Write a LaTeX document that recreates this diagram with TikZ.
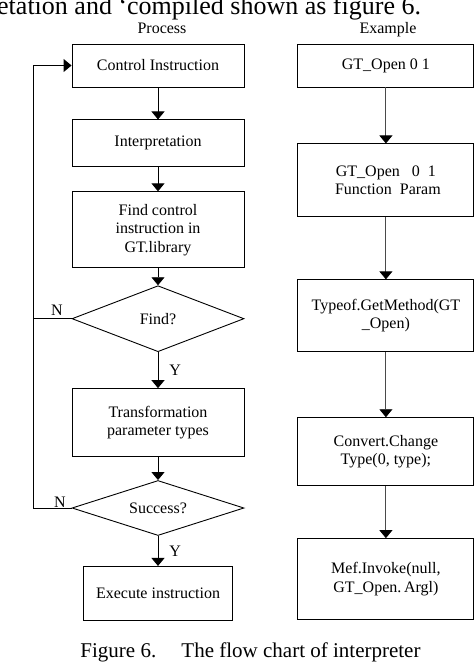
\documentclass[tikz,border=0pt]{standalone}
\usepackage{fontspec}
\setmainfont{Liberation Serif}
\usepackage{tikz}
\usetikzlibrary{arrows.meta,positioning,shapes.geometric}
\definecolor{wire}{HTML}{4A4A4A}
\newcommand{\boxfont}{\fontsize{16}{18.5}\selectfont}

\begin{document}
\begin{tikzpicture}[
  x=1pt, y=-1pt,
  node distance=32pt and 53pt,
  stepbox/.style={draw, line width=0.9pt, align=center, inner sep=0pt, minimum width=172pt, font=\boxfont},
  exbox/.style={stepbox, minimum width=176pt},
  query/.style={diamond, draw, line width=0.9pt, inner sep=0pt, aspect=2.6, minimum width=172pt, font=\boxfont},
  flow/.style={-{Triangle[width=13pt,length=8pt]}, line width=0.9pt},
  exflow/.style={-{Triangle[width=13pt,length=8pt,color=black]}, line width=0.9pt, draw=wire},
  tag/.style={inner sep=0pt, font=\boxfont}
]
\useasboundingbox (0,0) rectangle (474,662);

\node[anchor=base west, inner sep=0pt, font=\fontsize{26}{30}\selectfont] (above) at (-3,14) {etation and `compiled shown as figure 6.};

\node[stepbox, minimum height=43pt] (ctrl) at (158,65.5) {Control Instruction};
\node[stepbox, minimum height=47pt, below=32pt of ctrl] (interp) {Interpretation};
\node[stepbox, minimum height=76pt, below=24pt of interp] (find) {Find control\\instruction in\\GT.library};
\node[query, minimum height=66pt, below=17pt of find] (found) {Find?};
\node[stepbox, minimum height=68pt, below=36pt of found] (trans) {Transformation\\parameter types};
\node[query, minimum height=55pt, below=23pt of trans] (ok) {Success?};
\node[stepbox, minimum width=149pt, minimum height=54pt, below=30pt of ok] (exec) {Execute instruction};

\node[exbox, minimum height=43pt, right=53pt of ctrl] (gt) {GT\_Open 0 1};
\node[exbox, minimum height=73pt, below=56pt of gt] (gtfun) {GT\_Open\ \ \ 0\ \ 1\\\ Function\ \ Param};
\node[exbox, minimum height=72pt, below=62pt of gtfun] (typeof) {Typeof.GetMethod(GT\\\_Open)};
\node[exbox, minimum height=68pt, below=65pt of typeof] (conv) {Convert.Change\\Type(0, type);};
\node[exbox, minimum height=81pt, below=52pt of conv] (mef) {Mef.Invoke(null,\\GT\_Open.\,Argl)};

\node[tag, anchor=base] (proc) at (162,33) {Process};
\node[tag, anchor=base] (examp) at (388,33) {Example};
\node[inner sep=0pt, font=\fontsize{21}{24}\selectfont] (cap) at (250.5,652) {Figure 6.\hspace{1.2em}The flow chart of interpreter};

\coordinate (back) at (33,0);

\draw[flow] (ctrl) -- (interp);
\draw[flow] (interp) -- (find);
\draw[flow] (find) -- (found);
\draw[flow] (found) -- node[tag, right=11pt] {Y} (trans);
\draw[flow] (trans) -- (ok);
\draw[flow] (ok) -- node[tag, right=11pt] {Y} (exec);
\draw[line width=0.9pt] (found.west) -- node[tag, above=3pt, pos=0.38] {N} (found.west -| back);
\draw[flow] (ok.west) -- node[tag, above=0pt, pos=0.3] {N} (ok.west -| back) |- (ctrl.west);

\draw[exflow] (gt) -- (gtfun);
\draw[exflow] (gtfun) -- (typeof);
\draw[exflow] (typeof) -- (conv);
\draw[exflow] (conv) -- (mef);
\end{tikzpicture}
\end{document}
